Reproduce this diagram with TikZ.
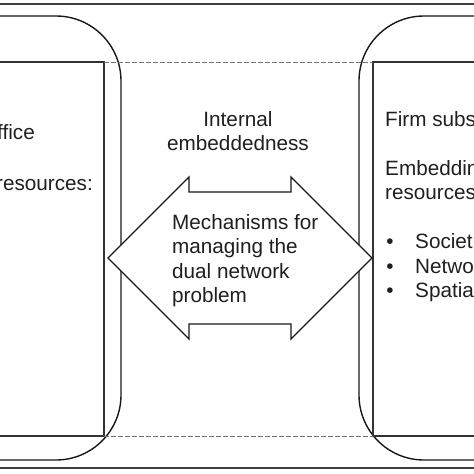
\documentclass[tikz,border=0pt]{standalone}
\usepackage{fontspec}
\setmainfont{Liberation Sans}
\begin{document}
\begin{tikzpicture}[x=1pt,y=-1pt,
  txt/.style={font=\fontsize{20.7}{24.5}\selectfont, inner sep=0pt, text=black!88},
  outerbox/.style={draw=black!90, line width=1.4pt, rounded corners=65pt},
  innerbox/.style={draw=black!80, line width=1.5pt},
  rule/.style={draw=black!75, line width=2.2pt},
  guide/.style={draw=black!55, line width=0.9pt, dash pattern=on 4.5pt off 2.5pt},
  arrowshape/.style={draw=black!90, line width=1.3pt, fill=white, line join=miter}]
\useasboundingbox (0,0) rectangle (474,474);
% horizontal rules
\coordinate (tl) at (-5,4);   \coordinate (tr) at (480,4);
\coordinate (bl) at (-5,468); \coordinate (br) at (480,468);
\draw[rule] (tl) -- (tr);
\draw[rule] (bl) -- (br);
% outer rounded boxes
\draw[outerbox] (-150,16) rectangle (121,460);
\draw[outerbox] (359,16) rectangle (630,460);
% inner boxes
\coordinate (linTop) at (104,62);  \coordinate (linBot) at (104,436);
\coordinate (rinTop) at (373,62);  \coordinate (rinBot) at (373,436);
\draw[innerbox] (-100,62) rectangle (linBot);
\draw[innerbox] (rinTop) rectangle (580,436);
% dashed guides
\draw[guide] (linTop) -- (rinTop);
\draw[guide] (linBot) -- (rinBot);
% double arrow
\draw[arrowshape] (108,258) -- (189,177) -- (189,192) -- (291,192) -- (291,177)
  -- (372,258) -- (291,339) -- (291,324) -- (189,324) -- (189,339) -- cycle;
% middle texts
\node[txt, anchor=base] (int1) at (238,126) {Internal};
\node[txt, anchor=base] (int2) at (238,150.5) {embeddedness};
\node[txt, anchor=base west] (m1) at (172,229) {Mechanisms for};
\node[txt, anchor=base west] (m2) at (172,253.5) {managing the};
\node[txt, anchor=base west] (m3) at (172,278) {dual network};
\node[txt, anchor=base west] (m4) at (172,302.5) {problem};
% left texts
\node[txt, anchor=base east] (lt1) at (35,139) {ffice};
\node[txt, anchor=base east] (lt2) at (93,190) {resources:};
% right texts
\node[txt, anchor=base west] (rt1) at (385,126) {Firm subs};
\node[txt, anchor=base west] (rt2) at (385,175) {Embeddin};
\node[txt, anchor=base west] (rt3) at (385,199.5) {resources};
\node[txt, anchor=base] (b1) at (390,248.5) {•};
\node[txt, anchor=base] (b2) at (390,273) {•};
\node[txt, anchor=base] (b3) at (390,297.5) {•};
\node[txt, anchor=base west] (rb1) at (415,248.5) {Societ};
\node[txt, anchor=base west] (rb2) at (415,273) {Netwo};
\node[txt, anchor=base west] (rb3) at (415,297.5) {Spatia};
\end{tikzpicture}
\end{document}
